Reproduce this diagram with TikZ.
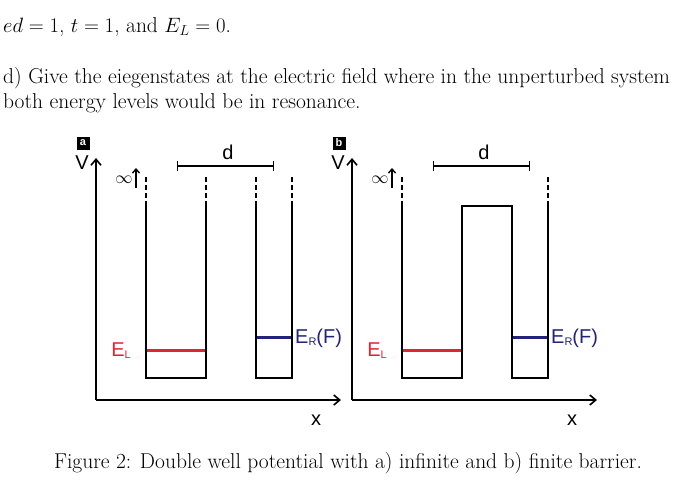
\documentclass[tikz,border=0pt]{standalone}
\usepackage{fontspec}
\newfontfamily\hv{Liberation Sans}
\usetikzlibrary{arrows.meta}
\definecolor{myred}{RGB}{220,40,45}
\definecolor{myblue}{RGB}{35,35,120}
\newcommand{\mysub}[1]{\raisebox{-2pt}{\fontsize{11}{11}\selectfont #1}}
\tikzset{wall/.style={line width=2.4pt,black},
 dashwall/.style={line width=2.4pt,dash pattern=on 5pt off 3pt},
 axis/.style={line width=1.6pt,-{Straight Barb[length=6pt,width=10pt,line width=1.6pt]}},
 lab/.style={font=\hv\fontsize{20}{20}\selectfont,inner sep=0pt},
 txt/.style={font=\fontsize{21.5}{24}\selectfont,inner sep=0pt,anchor=west},
 tag/.style={fill=black,text=white,font=\hv\bfseries\fontsize{11}{11}\selectfont,minimum size=13pt,inner sep=0pt}}
\begin{document}
\begin{tikzpicture}[x=1pt,y=-1pt]
\useasboundingbox (0,0) rectangle (700,490);
\node[txt] (t1) at (3,27) {$ed=1$, $t=1$, and $E_L=0$.};
\node[txt] (t2) at (3,78) {d) Give the eiegenstates at the electric field where in the unperturbed system};
\node[txt] (t3) at (3,103) {both energy levels would be in resonance.};
\node[txt,anchor=center] (cap) at (348,463) {Figure 2: Double well potential with a) infinite and b) finite barrier.};
\foreach \o/\n in {0/a,256/b}{
 \begin{scope}[xshift=\o]
 \node[tag] (tag\n) at (83,143) {\n};
 \coordinate (o\n) at (96,400);
 \coordinate (vt\n) at (96,158);
 \coordinate (xt\n) at (341,400);
 \draw[axis] (o\n) -- (vt\n);
 \draw[axis] (o\n) -- (xt\n);
 \node[lab] (V\n) at (82,163) {V};
 \node[lab] (x\n) at (316,420) {x};
 \node[lab,font=\fontsize{18}{18}\selectfont] (inf\n) at (124,180) {$\infty$};
 \coordinate (ia\n) at (136,188);
 \coordinate (ib\n) at (136,168);
 \draw[line width=1.4pt,-{Straight Barb[length=4pt,width=7pt]}] (ia\n) -- (ib\n);
 \coordinate (da\n) at (177,166);
 \coordinate (db\n) at (274,166);
 \draw[line width=1.4pt,{Bar[width=10pt]}-{Bar[width=10pt]}] (da\n) -- (db\n);
 \node[lab] (d\n) at (228,152) {d};
 \node[lab,text=myred] (EL\n) at (121,351) {E\mysub{L}};
 \node[lab,text=myblue,anchor=west] (ER\n) at (295,338) {E\mysub{R}(F)};
 \end{scope}}
% panel a
\draw[wall] (146,203) -- (146,378) -- (206,378) -- (206,203);
\draw[wall] (256,203) -- (256,378) -- (292,378) -- (292,203);
\foreach \x in {146,206,256,292} \draw[dashwall] (\x,177) -- (\x,203);
\draw[line width=3pt,myred] (147,350) -- (205,350);
\draw[line width=3pt,myblue] (257,337) -- (291,337);
% panel b
\draw[wall] (402,203) -- (402,378) -- (462,378) -- (462,206) -- (512,206) -- (512,378) -- (548,378) -- (548,203);
\foreach \x in {402,548} \draw[dashwall] (\x,177) -- (\x,203);
\draw[line width=3pt,myred] (403,350) -- (461,350);
\draw[line width=3pt,myblue] (513,337) -- (547,337);
\end{tikzpicture}
\end{document}
